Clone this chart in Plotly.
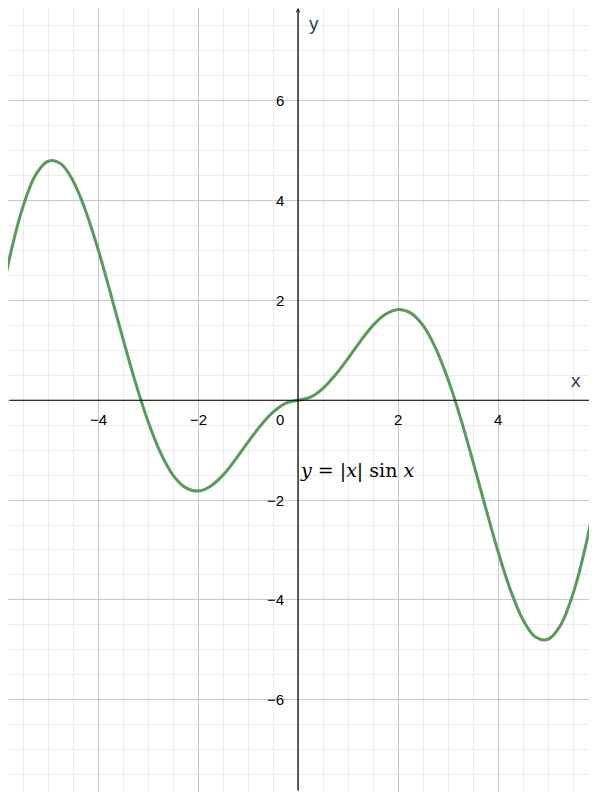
import plotly.graph_objects as go

xp = [0, 0.25, 0.5, 0.75, 1, 1.25, 1.5, 1.75, 2, 2.25, 2.5, 2.75, 3, 3.25, 3.5, 3.75,
      4, 4.25, 4.5, 4.75, 5, 5.25, 5.5, 5.75, 6]
yp = [0, 0.062, 0.24, 0.511, 0.84, 1.186, 1.50, 1.722, 1.82, 1.751, 1.50, 1.050, 0.42, -0.352,
      -1.23, -2.144, -3.03, -3.804, -4.40, -4.746, -4.79, -4.511, -3.88, -2.934, -1.68]
xs = [-v for v in xp[:0:-1]] + xp
ys = [-v for v in yp[:0:-1]] + yp
xticks = [-4, -2, 2, 4]
yticks = [-6, -4, -2, 2, 4, 6]

fig = go.Figure()
fig.add_trace(go.Scatter(x=xs, y=ys, mode="lines", line=dict(color="#5a9a5e", width=3, shape="spline"),
                         hoverinfo="skip"))
ax = dict(showgrid=True, gridcolor="#c8c8c8", gridwidth=1, dtick=2, tick0=0,
          minor=dict(dtick=0.5, showgrid=True, gridcolor="#ececec"),
          zeroline=False, showticklabels=False, fixedrange=True)
X0, X1 = -5.80, 5.98
Y0, Y1 = -7.85, 7.86
fig.update_xaxes(range=[X0, X1], **ax)
fig.update_yaxes(range=[Y0, Y1], **ax)
fig.add_annotation(x=X1, y=0, ax=X0, ay=0, xref="x", yref="y", axref="x", ayref="y",
                   showarrow=True, arrowhead=5, arrowsize=0.6, arrowwidth=1.2, arrowcolor="black", text="")
fig.add_annotation(x=0, y=Y1, ax=0, ay=Y0, xref="x", yref="y", axref="x", ayref="y",
                   showarrow=True, arrowhead=5, arrowsize=0.6, arrowwidth=1.2, arrowcolor="black", text="")
fnt = dict(family="Arial", size=15, color="black")
for t in xticks:
    fig.add_annotation(x=t, y=-0.38, text=str(t).replace("-", "−"), showarrow=False, font=fnt)
for t in yticks:
    fig.add_annotation(x=-0.25, y=t, text=str(t).replace("-", "−"), showarrow=False, font=fnt, xanchor="right")
fig.add_annotation(x=-0.25, y=-0.38, text="0", showarrow=False, font=fnt, xanchor="right")
fig.add_annotation(x=5.55, y=0.15, text="x", showarrow=False, font=dict(family="Arial", size=19), yanchor="bottom")
fig.add_annotation(x=0.18, y=7.55, text="y", showarrow=False, font=dict(family="Arial", size=19), xanchor="left")
fig.add_annotation(x=0.0, y=-1.4, text="<i>y</i> = |<i>x</i>| sin <i>x</i>", showarrow=False,
                   font=dict(family="DejaVu Serif", size=19, color="black"), xanchor="left")
fig.update_layout(width=589, height=784, margin=dict(l=0, r=0, t=0, b=0), showlegend=False,
                  plot_bgcolor="white", paper_bgcolor="white")
fig.write_html("out.html")
